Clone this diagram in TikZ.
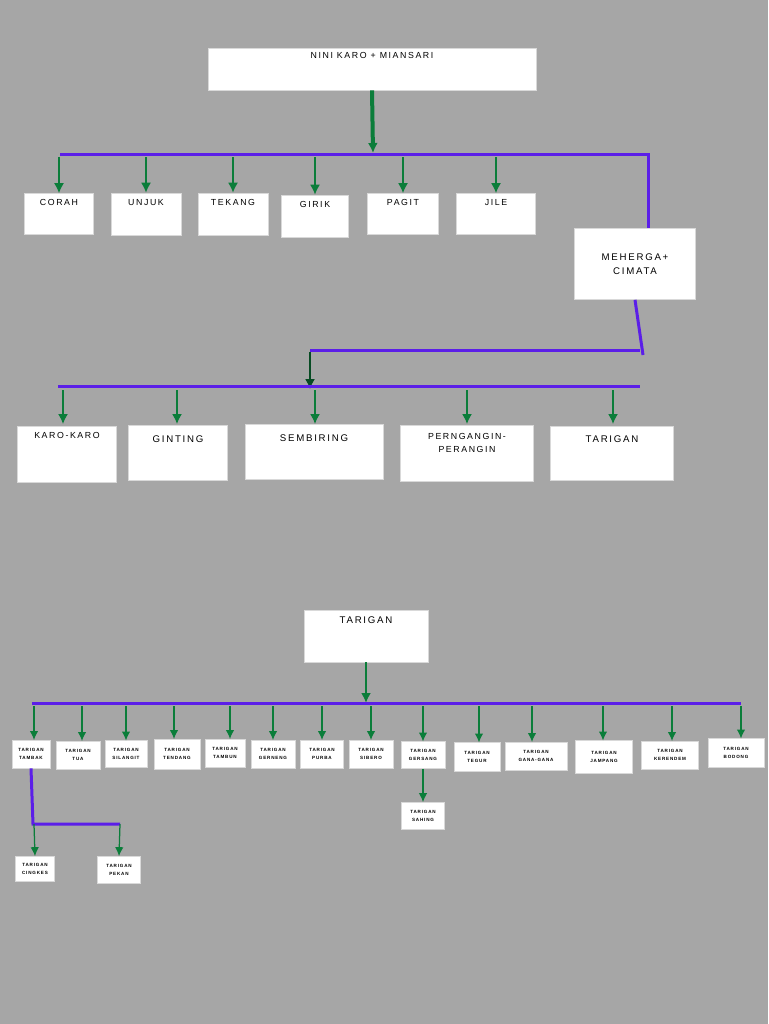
\documentclass[tikz,border=0pt]{standalone}
\usepackage{fontspec}
\newfontfamily\boxfont[LetterSpace=18]{Liberation Sans}
\usetikzlibrary{arrows.meta}
\definecolor{bggrey}{HTML}{A6A6A6}
\definecolor{linkgreen}{HTML}{0B7D3A}
\definecolor{barpurple}{HTML}{5B1EE8}
\tikzset{
  box/.style={rectangle, fill=white, draw=white!85!black, align=center, inner sep=1pt, font=\boxfont},
  bigbox/.style={box, font=\boxfont\fontsize{6.5}{9}\selectfont},
  midbox/.style={box, font=\boxfont\fontsize{5.5}{8}\selectfont},
  smallbox/.style={box, font=\boxfont\bfseries\fontsize{2.6}{4.5}\selectfont},
  bar/.style={barpurple, line width=0.06cm},
  arr/.style={linkgreen, line width=0.03cm, -{Latex[length=0.2cm,width=0.2cm]}},
}
\begin{document}
\begin{tikzpicture}[x=0.02cm,y=-0.02cm]
\fill[bggrey] (0,0) rectangle (768,1024);
\useasboundingbox (0,0) rectangle (768,1024);

% top
\node[box, font=\boxfont\fontsize{5}{7}\selectfont, minimum width=6.56cm, minimum height=0.84cm] (nini) at (372,69) {NINI KARO + MIANSARI\\[8pt]};
\draw[arr, line width=0.08cm] (nini.south) -- (373,153);
\draw[bar] (60,154) -- (648,154) -- (648,229);
\foreach \cx/\nm/\txt/\w/\h/\cy in {59/corah/CORAH/69/41/214, 146/unjuk/UNJUK/70/42/214, 233/tekang/TEKANG/70/42/214,
  315/girik/GIRIK/67/42/216, 403/pagit/PAGIT/71/41/214, 496/jile/JILE/79/41/214}{
  \node[box, font=\boxfont\fontsize{5}{7}\selectfont, minimum width=\w*0.02cm, minimum height=\h*0.02cm] (\nm) at (\cx,\cy) {\txt\\[6pt]};
  \draw[arr] (\cx,157) -- (\nm.north);
}
\node[midbox, minimum width=2.42cm, minimum height=1.42cm] (meherga) at (635,264) {MEHERGA+\\CIMATA};

% second level
\draw[bar] (meherga.south) -- (643,355);
\draw[bar] (310,350) -- (640,350);
\draw[arr, draw=linkgreen!60!black] (310,352) -- (310,389);
\draw[bar] (58,386) -- (640,386);
\node[box, font=\boxfont\fontsize{5}{7}\selectfont, minimum width=1.98cm, minimum height=1.12cm] (karo) at (67,454) {KARO-KARO\\[14pt]};
\node[midbox, minimum width=1.98cm, minimum height=1.1cm] (ginting) at (178,453) {GINTING\\[8pt]};
\node[midbox, minimum width=2.76cm, minimum height=1.1cm] (sembiring) at (314,452) {SEMBIRING\\[8pt]};
\node[box, font=\boxfont\fontsize{5}{7.5}\selectfont, minimum width=2.66cm, minimum height=1.12cm] (perangin) at (467,453) {PERNGANGIN-\\PERANGIN\\[4pt]};
\node[midbox, minimum width=2.46cm, minimum height=1.08cm] (tarigan) at (612,453) {TARIGAN\\[8pt]};
\foreach \cx/\nm in {63/karo, 177/ginting, 315/sembiring, 467/perangin, 613/tarigan}
  \draw[arr] (\cx,390) -- (\cx,424);

% tarigan branch
\node[midbox, minimum width=2.48cm, minimum height=1.04cm] (tarigantop) at (366,636) {TARIGAN\\[10pt]};
\draw[arr, line width=0.05cm] (tarigantop.south) -- (366,703);
\draw[bar] (32,703) -- (741,703);
\foreach \cx/\nm/\sub/\w/\h/\cy/\ax in {31/tambak/TAMBAK/38/28/754/34, 78/tua/TUA/44/28/755/82, 126/silangit/SILANGIT/42/27/754/126,
  177/tendang/TENDANG/46/30/754/174, 225/tambun/TAMBUN/40/28/753/230, 273/gerneng/GERNENG/44/28/754/273,
  322/purba/PURBA/43/28/754/322, 371/sibero/SIBERO/44/28/754/371, 423/gersang/GERSANG/44/27/755/423,
  477/tegur/TEGUR/46/29/757/479, 536/gana/GANA-GANA/62/28/756/532, 604/jampang/JAMPANG/57/33/757/603,
  670/kerendem/KERENDEM/57/28/755/672, 736/bodong/BODONG/56/29/753/741}{
  \node[smallbox, minimum width=\w*0.02cm, minimum height=\h*0.02cm] (\nm) at (\cx,\cy) {TARIGAN\\\sub};
  \draw[arr, line width=0.025cm, -{Latex[length=0.18cm,width=0.17cm]}] (\ax,706) -- (\ax,\cy-\h/2);
}
\draw[bar] (tambak.south) -- (33,824) -- (120,824);
\node[smallbox, minimum width=0.78cm, minimum height=0.5cm] (cingkes) at (35,869) {TARIGAN\\CINGKES};
\node[smallbox, minimum width=0.86cm, minimum height=0.54cm] (pekan) at (119,870) {TARIGAN\\PEKAN};
\node[smallbox, minimum width=0.86cm, minimum height=0.54cm] (sahing) at (423,816) {TARIGAN\\SAHING};
\draw[arr, line width=0.025cm, -{Latex[length=0.18cm,width=0.17cm]}] (34,824) -- (cingkes.north);
\draw[arr, line width=0.025cm, -{Latex[length=0.18cm,width=0.17cm]}] (120,824) -- (pekan.north);
\draw[arr, line width=0.025cm, -{Latex[length=0.18cm,width=0.17cm]}] (gersang.south) -- (sahing.north);
\end{tikzpicture}
\end{document}
